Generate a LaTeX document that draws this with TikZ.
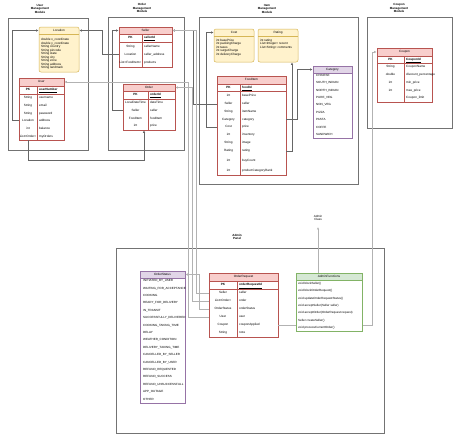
\documentclass[tikz,border=0pt]{standalone}
\usepackage{fontspec}
\setmainfont{Liberation Sans}
\usetikzlibrary{arrows.meta}
\definecolor{redfill}{HTML}{F8CECC}
\definecolor{redline}{HTML}{B85450}
\definecolor{yellowfill}{HTML}{FFF2CC}
\definecolor{yellowline}{HTML}{D6B656}
\definecolor{purplefill}{HTML}{E1D5E7}
\definecolor{purpleline}{HTML}{9673A6}
\definecolor{greenfill}{HTML}{D5E8D4}
\definecolor{greenline}{HTML}{82B366}
\tikzset{
  module/.style={draw=black!55, line width=0.8pt},
  modtitle/.style={font=\fontsize{3}{3.5}\selectfont\bfseries, align=center, inner sep=0pt},
  note/.style={font=\fontsize{3}{3.5}\selectfont, align=center, inner sep=0pt},
  txt/.style={font=\fontsize{3.1}{3.5}\selectfont, inner sep=0pt, text height=2.3pt, text depth=0.6pt},
  cell/.style={txt},
  keycell/.style={txt, font=\fontsize{3.1}{3.5}\selectfont\bfseries},
  field/.style={txt, anchor=west},
  keyfield/.style={keycell, anchor=west},
  tabframe/.style={draw=redline, line width=0.5pt, fill=white, inner sep=0pt},
  redhead/.style={tabframe, fill=redfill, txt},
  tabline/.style={draw=redline, line width=0.5pt},
  pkline/.style={draw=redline, line width=0.9pt},
  classbox/.style={draw=yellowline, fill=yellowfill, rounded corners=2pt, line width=0.5pt, inner sep=0pt},
  classline/.style={draw=yellowline, line width=0.5pt},
  enumframe/.style={draw=purpleline, fill=white, line width=0.5pt, inner sep=0pt},
  enumhead/.style={enumframe, fill=purplefill, txt},
  funcframe/.style={draw=greenline, fill=white, line width=0.5pt, inner sep=0pt},
  funchead/.style={funcframe, fill=greenfill, txt},
  list/.style={font=\fontsize{3.1}{3.5}\selectfont, align=left, inner sep=0pt, anchor=north west},
  enumlist/.style={list, font=\fontsize{3}{7.4}\selectfont},
  conn/.style={draw=black!60, line width=0.8pt, -{Latex[length=2.6pt,width=2.4pt]}},
  link/.style={conn, draw=black!30, line width=0.7pt}
}
\begin{document}
\begin{tikzpicture}[x=1pt, y=-1pt]
  \path[use as bounding box, fill=white] (0,0) rectangle (474,445);

  % modules
  \draw[module] (8,18) rectangle (88,150);
  \draw[module] (108,17) rectangle (184,150);
  \draw[module] (199,17) rectangle (358,184);
  \draw[module] (367,17) rectangle (452,128);
  \draw[module] (116,248) rectangle (384,433);
  \path
    (40,8.5) node[modtitle] (usermod) {User\\Management\\Module}
    (142,8) node[modtitle] (ordermod) {Order\\Management\\Module}
    (267,8.5) node[modtitle] (itemmod) {Item\\Management\\Module}
    (399,8) node[modtitle] (couponmod) {Coupon\\Management\\Module}
    (237,237) node[modtitle] (adminmod) {Admin\\Panel}
    (318,218) node[note] (adminnote) {Admin\\Class};

  % Location
  \node[classbox, minimum width=40pt, minimum height=45pt] (loc) at (59,49.5) {};
  \draw[classline] (39,34) -- (79,34);
  \node[txt] (loc-head) at (59,30.5) {Location};
  \node[list] (loc-list) at (41,38.2) {double x\_coordinate\\double y\_coordinate\\String country\\String pincode\\String state\\String city\\String zone\\String address\\String landmark};

  % User
  \node[tabframe, minimum width=45pt, minimum height=62pt] (user) at (41.5,109) {};
  \node[redhead, minimum width=45pt, minimum height=8pt] (user-head) at (41.5,82) {User};
  \draw[pkline] (19,94) -- (64,94);
  \draw[tabline] (37,86) -- (37,140);
  \path
    (28,90) node[keycell] (user-pk) {PK}
    (39,90) node[keyfield] (user-id) {\underline{userNumber}}
    (28,97.8) node[cell] (user-t1) {String}
    (39,97.8) node[field] (user-f1) {username}
    (28,105.5) node[cell] (user-t2) {String}
    (39,105.5) node[field] (user-f2) {email}
    (28,113.2) node[cell] (user-t3) {String}
    (39,113.2) node[field] (user-f3) {password}
    (28,120.8) node[cell] (user-t4) {Location}
    (39,120.8) node[field] (user-f4) {address}
    (28,128.5) node[cell] (user-t5) {int}
    (39,128.5) node[field] (user-f5) {balance}
    (28,136.2) node[cell] (user-t6) {List<Order>}
    (39,136.2) node[field] (user-f6) {myOrders};
  \draw[conn] (user.west |- user-t4) -- ++(-6,0) |- (loc.west |- loc-head);

  % Seller
  \node[tabframe, minimum width=53pt, minimum height=40pt] (seller) at (145.5,47) {};
  \node[redhead, minimum width=53pt, minimum height=7pt] (seller-head) at (145.5,30.5) {Seller};
  \draw[pkline] (119,42) -- (172,42);
  \draw[tabline] (142,34) -- (142,67);
  \path
    (130.5,38) node[keycell] (seller-pk) {PK}
    (144,38) node[keyfield] (seller-id) {\underline{sellerId}}
    (130.5,46.2) node[cell] (seller-t1) {String}
    (144,46.2) node[field] (seller-f1) {sellerName}
    (130.5,54.5) node[cell] (seller-t2) {Location}
    (144,54.5) node[field] (seller-f2) {seller\_address}
    (130.5,62.8) node[cell] (seller-t3) {List<FoodItem>}
    (144,62.8) node[field] (seller-f3) {products};
  \draw[conn] (seller.west |- seller-t2) -- ++(-16,0) |- (loc.east |- loc-head);

  % Order
  \node[tabframe, minimum width=52pt, minimum height=46pt] (order) at (149,107) {};
  \node[redhead, minimum width=52pt, minimum height=7pt] (order-head) at (149,87.5) {Order};
  \draw[pkline] (123,99) -- (175,99);
  \draw[tabline] (148,91) -- (148,130);
  \path
    (135.5,95) node[keycell] (order-pk) {PK}
    (150,95) node[keyfield] (order-id) {\underline{orderId}}
    (135.5,102.9) node[cell] (order-t1) {LocalDateTime}
    (150,102.9) node[field] (order-f1) {dateTime}
    (135.5,110.6) node[cell] (order-t2) {Seller}
    (150,110.6) node[field] (order-f2) {seller}
    (135.5,118.4) node[cell] (order-t3) {FoodItem}
    (150,118.4) node[field] (order-f3) {foodItem}
    (135.5,126.1) node[cell] (order-t4) {int}
    (150,126.1) node[field] (order-f4) {price};
  \draw[conn] (order.west |- order-t2) -- ++(-10,0) |- (seller.west |- seller-head);
  \draw[conn] (user.south -| user-t6) -- ++(0,20) -| ([xshift=-5pt]order.south);

  % Cost, Rating
  \node[classbox, minimum width=40pt, minimum height=33pt] (cost) at (234,45.5) {};
  \draw[classline] (214,36) -- (254,36);
  \node[txt] (cost-head) at (234,32.5) {Cost};
  \node[list] (cost-list) at (216,38.9) {int basePrice\\int packingCharge\\int taxes\\int surgeCharge\\int deliveryCharge};
  \node[classbox, minimum width=40pt, minimum height=33pt] (rating) at (278,45.5) {};
  \draw[classline] (258,36) -- (298,36);
  \node[txt] (rating-head) at (278,32.5) {Rating};
  \node[list] (rating-list) at (260,38.9) {int rating\\List<Integer> recent\\List<String> comments};

  % Category
  \node[enumframe, minimum width=39pt, minimum height=72pt] (cat) at (332.5,102) {};
  \node[enumhead, minimum width=39pt, minimum height=7pt] (cat-head) at (332.5,69.5) {Category};
  \node[enumlist, font=\fontsize{3}{7.45}\selectfont] (cat-list) at (316,73.9) {CHINESE\\SOUTH\_INDIAN\\NORTH\_INDIAN\\PURE\_VEG\\NON\_VEG\\PIZZA\\PASTA\\COFFE\\SANDWICH};

  % FoodItem
  \node[tabframe, minimum width=69pt, minimum height=99pt] (food) at (251.5,125.5) {};
  \node[redhead, minimum width=69pt, minimum height=8pt] (food-head) at (251.5,80) {FoodItem};
  \draw[pkline] (217,91) -- (286,91);
  \draw[tabline] (240,84) -- (240,175);
  \path
    (228.5,87.5) node[keycell] (food-pk) {PK}
    (242,87.5) node[keyfield] (food-id) {\underline{foodId}}
    (228.5,96) node[cell] (food-t1) {int}
    (242,96) node[field] (food-f1) {basePrice}
    (228.5,104) node[cell] (food-t2) {Seller}
    (242,104) node[field] (food-f2) {seller}
    (228.5,112) node[cell] (food-t3) {String}
    (242,112) node[field] (food-f3) {itemName}
    (228.5,119.5) node[cell] (food-t4) {Category}
    (242,119.5) node[field] (food-f4) {category}
    (228.5,127) node[cell] (food-t5) {Cost}
    (242,127) node[field] (food-f5) {price}
    (228.5,135) node[cell] (food-t6) {int}
    (242,135) node[field] (food-f6) {inventory}
    (228.5,143) node[cell] (food-t7) {String}
    (242,143) node[field] (food-f7) {image}
    (228.5,151) node[cell] (food-t8) {Rating}
    (242,151) node[field] (food-f8) {rating}
    (228.5,161) node[cell] (food-t9) {int}
    (242,161) node[field] (food-f9) {buyCount}
    (228.5,171) node[cell] (food-t10) {int}
    (242,171) node[field] (food-f10) {productCategoryRank};
  \draw[conn] (food.west |- food-t2) -- ++(-23,0) |- (seller.east |- seller-head);
  \draw[conn] (food.west |- food-t5) -- ++(-10,0) |- (cost.west |- cost-head);
  \draw[conn] (food.east |- food-t4) -- ++(11,0) |- (cat.west |- cat-head);
  \draw[conn] (food.east |- food-t8) -| ([xshift=14pt]rating.south);

  % Coupon
  \node[tabframe, minimum width=55pt, minimum height=54pt] (coupon) at (404.5,75) {};
  \node[redhead, minimum width=55pt, minimum height=8pt] (coupon-head) at (404.5,52) {Coupon};
  \draw[pkline] (377,63) -- (432,63);
  \draw[tabline] (404,56) -- (404,102);
  \path
    (390.5,59.5) node[keycell] (coupon-pk) {PK}
    (406,59.5) node[keyfield] (coupon-id) {\underline{CouponId}}
    (390.5,66.9) node[cell] (coupon-t1) {String}
    (406,66.9) node[field] (coupon-f1) {CouponName}
    (390.5,74.7) node[cell] (coupon-t2) {double}
    (406,74.7) node[field] (coupon-f2) {discount\_percentage}
    (390.5,82.5) node[cell] (coupon-t3) {int}
    (406,82.5) node[field] (coupon-f3) {min\_price}
    (390.5,90.3) node[cell] (coupon-t4) {int}
    (406,90.3) node[field] (coupon-f4) {max\_price}
    (406,98.1) node[field] (coupon-f5) {Coupon\_limit};

  % OrderStatus
  \node[enumframe, minimum width=45pt, minimum height=132pt] (ostat) at (162.5,337) {};
  \node[enumhead, minimum width=45pt, minimum height=7pt] (ostat-head) at (162.5,274.5) {OrderStatus};
  \node[enumlist] (ostat-list) at (143,279.3) {INITIATED\_BY\_USER\\WAITING\_FOR\_ACCEPTANCE\\COOKING\\READY\_FOR\_DELIVERY\\IN\_TRANSIT\\SUCCESSFULLY\_DELIVERED\\COOKING\_TAKING\_TIME\\DELAY\\WEATHER\_CONDITION\\DELIVERY\_TAKING\_TIME\\CANCELLED\_BY\_SELLER\\CANCELLED\_BY\_USER\\REFUND\_REQUESTED\\REFUND\_SUCCESS\\REFUND\_UNSUCCESSFULL\\APP\_OUTAGE\\OTHER};

  % OrderRequest
  \node[tabframe, minimum width=69pt, minimum height=64pt] (oreq) at (243.5,305) {};
  \node[redhead, minimum width=69pt, minimum height=8pt] (oreq-head) at (243.5,277) {OrderRequest};
  \draw[pkline] (209,289) -- (278,289);
  \draw[tabline] (237,281) -- (237,337);
  \path
    (223,285) node[keycell] (oreq-pk) {PK}
    (239,285) node[keyfield] (oreq-id) {\underline{orderRequestId}}
    (223,293) node[cell] (oreq-t1) {Seller}
    (239,293) node[field] (oreq-f1) {seller}
    (223,301) node[cell] (oreq-t2) {List<Order>}
    (239,301) node[field] (oreq-f2) {order}
    (223,309) node[cell] (oreq-t3) {OrderStatus}
    (239,309) node[field] (oreq-f3) {orderStatus}
    (223,317) node[cell] (oreq-t4) {User}
    (239,317) node[field] (oreq-f4) {user}
    (223,325) node[cell] (oreq-t5) {Coupon}
    (239,325) node[field] (oreq-f5) {couponApplied}
    (223,333) node[cell] (oreq-t6) {String}
    (239,333) node[field] (oreq-f6) {note};
  \draw[link] (oreq.west |- oreq-t4) -- ++(-20,0) |- (user.east |- user-head);
  \draw[link] (oreq.west |- oreq-t2) -- ++(-16,0) |- (order.east |- order-head);
  \draw[link] (oreq.west |- oreq-t1) -- ++(-12,0) |- (seller.east |- seller-head);
  \draw[link] (oreq.west |- oreq-t3) -- ++(-9,0) |- (ostat.east |- ostat-head);
  \draw[link] (oreq.east |- oreq-t5) -- ++(94,0) |- (coupon.west |- coupon-head);

  % AdminFunctions
  \node[funcframe, minimum width=66pt, minimum height=58pt] (admin) at (329,302) {};
  \node[funchead, minimum width=66pt, minimum height=7pt] (admin-head) at (329,276.5) {AdminFunctions};
  \node[enumlist] (admin-list) at (298,281.9) {void blockSeller()\\void blockOrderRequest()\\void updateOrderRequestStatus()\\void acceptSeller(Seller seller)\\void acceptOrder(OrderRequest request)\\Seller createSeller()\\void processCurrentOrder()};
  \draw[link, {Latex[length=2.4pt,width=2.2pt]}-] ([yshift=-6pt]adminnote.south) -- (adminnote.south |- admin.north);
\end{tikzpicture}
\end{document}
